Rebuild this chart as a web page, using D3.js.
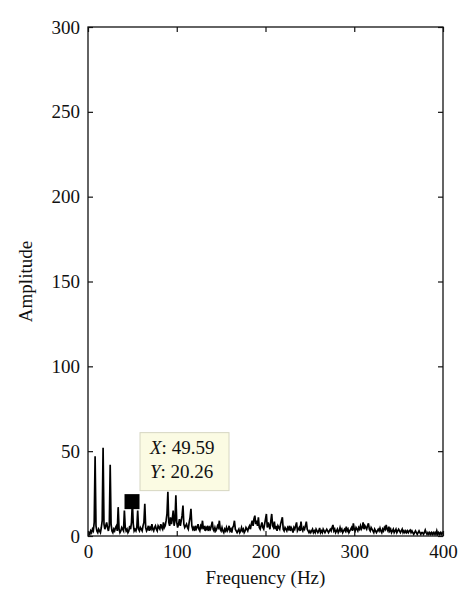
<!DOCTYPE html>
<html>
<head>
<meta charset="utf-8">
<script src="https://cdn.jsdelivr.net/npm/d3@7"></script>
<style>
  body { margin: 0; background: #fff; }
  text { font-family: "Liberation Serif", "DejaVu Serif", serif; }
</style>
</head>
<body>
<div class="canvas"></div>
<script>
// amplitude spectrum, one value per Hz from 0 to 400
const amplitude = [
  1, 2, 1, 3, 2, 4, 3, 8, 47, 6,
  3, 2, 4, 3, 2, 5, 9, 52, 7, 4,
  6, 8, 5, 3, 6, 42, 7, 3, 2, 4,
  3, 5, 6, 3, 17, 4, 2, 3, 5, 4,
  3, 15, 5, 3, 4, 2, 3, 6, 4, 8,
  20.3, 7, 3, 4, 3, 5, 15, 4, 3, 5,
  4, 3, 6, 8, 19, 5, 3, 4, 6, 3,
  5, 4, 7, 4, 3, 5, 6, 4, 3, 6,
  5, 4, 7, 5, 4, 8, 5, 6, 9, 13,
  26, 8, 6, 11, 7, 10, 15, 6, 9, 24,
  8, 5, 7, 10, 6, 9, 12, 18, 7, 5,
  6, 7, 5, 4, 8, 11, 16, 6, 4, 5,
  3, 6, 4, 5, 7, 4, 3, 6, 5, 9,
  4, 6, 3, 5, 4, 6, 3, 5, 4, 6,
  8.5, 4, 3, 5, 3, 4, 6, 5, 9, 4,
  3, 5, 3, 2, 4, 3, 5, 3, 4, 6,
  3, 4, 2, 5, 6, 9, 4, 3, 2, 3,
  4, 2, 3, 5, 3, 4, 2, 3, 5, 4,
  3, 5, 6, 4, 7, 9, 6, 10, 12, 7,
  9, 6, 11, 5, 4, 6, 8, 5, 4, 7,
  10, 13, 5, 8, 6, 4, 9, 13, 6, 5,
  8.5, 4, 6, 3, 6, 5, 4, 7, 9, 11,
  4, 3, 5, 4, 3, 5, 4, 6, 3, 5,
  4, 2, 5, 4, 6, 8, 3, 4, 5, 3,
  8.5, 4, 3, 5, 4, 6, 8.5, 4, 3, 2,
  3, 2, 3, 4, 2, 3, 2, 4, 3, 2,
  3, 4.7, 2, 3, 2, 4, 3, 2, 3, 4,
  3, 2, 3, 4, 3, 5, 6.5, 3, 4, 2,
  3, 4, 2, 3, 5, 3, 4, 2, 3, 4,
  3, 5.5, 3, 4, 2, 3, 4, 5, 3, 7.5,
  4, 3, 5, 4, 3, 5, 4, 6, 4, 5,
  8, 4, 6, 5, 4, 6, 7.5, 4, 3, 5,
  4, 3, 2, 4, 3, 2, 3, 4, 3, 4.7,
  3, 2, 4, 3, 5, 4, 6.5, 4, 3, 5.5,
  3, 4, 2, 3, 4, 2, 3, 4, 2, 3,
  4, 3, 2, 3, 4, 2, 3, 2, 3, 2,
  3, 2, 3, 3.5, 2, 3, 2, 1, 2, 3,
  2, 1, 2, 3, 2, 1, 2, 2, 1, 2,
  3.5, 2, 1, 2, 1, 2, 1, 2, 1, 2,
  1, 2, 1, 3, 1, 2, 1, 2, 1, 2,
  1
];
const frequency = amplitude.map((d, i) => i);

const xTicks = [0, 100, 200, 300, 400];
const yTicks = [0, 50, 100, 150, 200, 250, 300];

// data cursor
const cursorX = 49.59;
const cursorY = 20.26;

const margin = { top: 27, right: 31, bottom: 70, left: 88 };
const width = 474;
const height = 606;

const svg = d3.select(".canvas").append("svg")
    .attr("width", width)
    .attr("height", height);

const x = d3.scaleLinear().domain([0, 400]).range([margin.left, width - margin.right]);
const y = d3.scaleLinear().domain([0, 300]).range([height - margin.bottom, margin.top]);

svg.append("clipPath").attr("id", "plot-clip")
  .append("rect")
    .attr("x", x(0))
    .attr("y", y(300))
    .attr("width", x(400) - x(0))
    .attr("height", y(0) - y(300));

// spectrum line
const line = d3.line()
    .x((d, i) => x(frequency[i]))
    .y(d => y(d));

svg.append("path")
    .datum(amplitude)
    .attr("clip-path", "url(#plot-clip)")
    .attr("fill", "none")
    .attr("stroke", "#000")
    .attr("stroke-width", 1.7)
    .attr("stroke-linejoin", "miter")
    .attr("d", line);

// axes, ticks pointing inward on all sides
const tickLen = 5;
svg.append("g")
    .attr("transform", `translate(0,${y(0)})`)
    .call(d3.axisBottom(x).tickValues(xTicks).tickSizeInner(-tickLen).tickSizeOuter(0).tickPadding(9))
    .call(g => g.select(".domain").remove());
svg.append("g")
    .attr("transform", `translate(0,${y(300)})`)
    .call(d3.axisTop(x).tickValues(xTicks).tickSizeInner(-tickLen).tickSizeOuter(0).tickFormat(""))
    .call(g => g.select(".domain").remove());
svg.append("g")
    .attr("transform", `translate(${x(0)},0)`)
    .call(d3.axisLeft(y).tickValues(yTicks).tickSizeInner(-tickLen).tickSizeOuter(0).tickPadding(8))
    .call(g => g.select(".domain").remove());
svg.append("g")
    .attr("transform", `translate(${x(400)},0)`)
    .call(d3.axisRight(y).tickValues(yTicks).tickSizeInner(-tickLen).tickSizeOuter(0).tickFormat(""))
    .call(g => g.select(".domain").remove());

svg.selectAll(".tick text")
    .style("font-family", "Liberation Serif, serif")
    .style("font-size", "19px")
    .attr("fill", "#111");
svg.selectAll(".tick line").attr("stroke", "#111").attr("stroke-width", 1.2);

// frame
svg.append("rect")
    .attr("x", x(0))
    .attr("y", y(300))
    .attr("width", x(400) - x(0))
    .attr("height", y(0) - y(300))
    .attr("fill", "none")
    .attr("stroke", "#111")
    .attr("stroke-width", 1.3);

// axis titles
svg.append("text")
    .attr("x", (x(0) + x(400)) / 2)
    .attr("y", 584)
    .attr("text-anchor", "middle")
    .style("font-size", "19px")
    .attr("fill", "#111")
    .text("Frequency (Hz)");

svg.append("text")
    .attr("transform", `translate(32,${(y(0) + y(300)) / 2}) rotate(-90)`)
    .attr("text-anchor", "middle")
    .style("font-size", "19px")
    .attr("fill", "#111")
    .text("Amplitude");

// data cursor marker and tip
const cx = x(cursorX), cy = y(cursorY);
svg.append("rect")
    .attr("x", cx - 7.5)
    .attr("y", cy - 7.5)
    .attr("width", 15)
    .attr("height", 15)
    .attr("fill", "#000");

const tip = svg.append("g").attr("transform", `translate(${cx + 8},${cy - 69})`);
tip.append("rect")
    .attr("width", 89)
    .attr("height", 58)
    .attr("fill", "#fbfbe3")
    .attr("stroke", "#d6d6c2")
    .attr("stroke-width", 1);

const tipLines = [["X", cursorX.toFixed(2)], ["Y", cursorY.toFixed(2)]];
tipLines.forEach((t, i) => {
  const txt = tip.append("text")
      .attr("x", 10)
      .attr("y", 21 + i * 24)
      .style("font-size", "19px")
      .attr("fill", "#111");
  txt.append("tspan").style("font-style", "italic").text(t[0]);
  txt.append("tspan").text(": " + t[1]);
});
</script>
</body>
</html>
